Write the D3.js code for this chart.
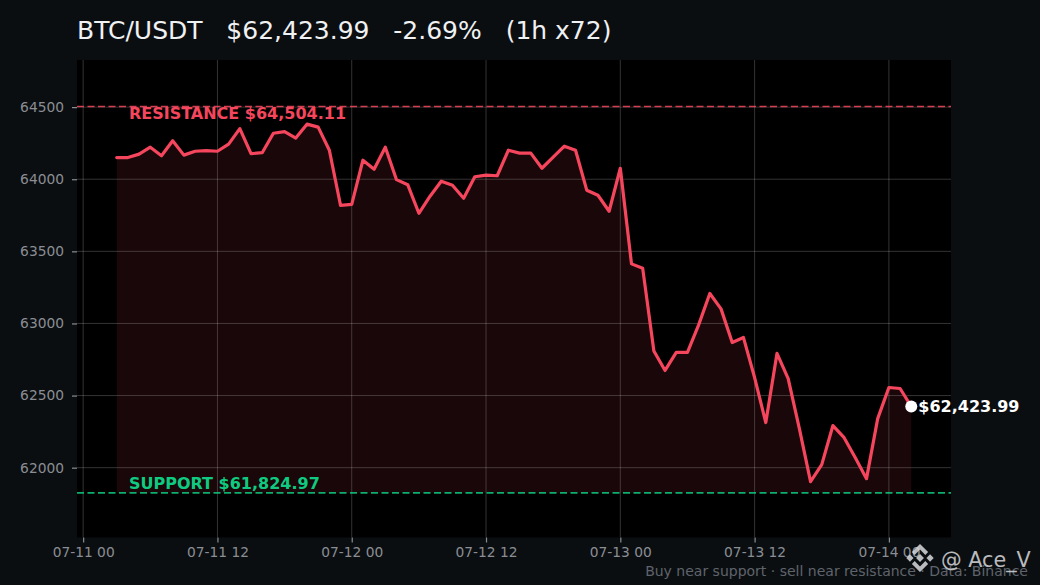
<!DOCTYPE html>
<html>
<head>
<meta charset="utf-8">
<script src="https://cdn.jsdelivr.net/npm/d3@7"></script>
<style>
  html, body { margin: 0; padding: 0; background: #0b0e11; }
  svg { display: block; }
  text { font-family: "DejaVu Sans", sans-serif; }
</style>
</head>
<body>
<svg id="chart" width="1040" height="585"></svg>
<script>
// ---------- data ----------
const symbol = "BTC/USDT";
const interval = "1h";
const startTime = "2024-07-11T03:00:00Z";   // first hourly candle close
const prices = [
  64150, 64150, 64174, 64222, 64163, 64267, 64167, 64194, 64198, 64194,
  64243, 64351, 64177, 64184, 64319, 64330, 64285, 64382, 64361, 64201,
  63819, 63826, 64132, 64069, 64222, 63997, 63962, 63764, 63882, 63986,
  63958, 63868, 64017, 64028, 64024, 64201, 64181, 64181, 64076, 64153,
  64229, 64201, 63924, 63889, 63778, 64076, 63413, 63382, 62809, 62674,
  62799, 62799, 62990, 63208, 63101, 62868, 62903, 62625, 62313, 62792,
  62618, 62271, 61903, 62021, 62292, 62208, 62069, 61924, 62340, 62556,
  62549, 62423.99
];
const resistance = 64504.11;
const support = 61824.97;
const yTicks = [62000, 62500, 63000, 63500, 64000, 64500];
const xTickTimes = ["2024-07-11T00:00:00Z", "2024-07-11T12:00:00Z", "2024-07-12T00:00:00Z",
                    "2024-07-12T12:00:00Z", "2024-07-13T00:00:00Z", "2024-07-13T12:00:00Z",
                    "2024-07-14T00:00:00Z"];
const xTickLabels = ["07-11 00", "07-11 12", "07-12 00", "07-12 12", "07-13 00", "07-13 12", "07-14 00"];
const footerText = "Buy near support · sell near resistance · Data: Binance";
const watermarkText = "@ Ace_V";

// ---------- setup ----------
const W = 1040, H = 585;
const plot = { left: 77, right: 951, top: 60, bottom: 537.5 };
const HOUR = 3600 * 1000;
const t0 = new Date(startTime).getTime();
const data = prices.map((p, i) => ({ t: new Date(t0 + i * HOUR), v: p }));

const last = prices[prices.length - 1];
const pct = (last / prices[0] - 1) * 100;
const fmtPrice = d3.format(",.2f");

const svg = d3.select("#chart");
svg.append("rect").attr("width", W).attr("height", H).attr("fill", "#0b0e11");

const span = data[data.length - 1].t - data[0].t;
const x = d3.scaleUtc()
  .domain([new Date(+data[0].t - span * 0.05), new Date(+data[data.length - 1].t + span * 0.05)])
  .range([plot.left, plot.right]);
const y = d3.scaleLinear()
  .domain([support * 0.995, resistance * 1.005])
  .range([plot.bottom, plot.top]);

// plot background
svg.append("rect")
  .attr("x", plot.left).attr("y", plot.top)
  .attr("width", plot.right - plot.left).attr("height", plot.bottom - plot.top)
  .attr("fill", "#000000");

svg.append("clipPath").attr("id", "clip")
  .append("rect")
  .attr("x", plot.left).attr("y", plot.top)
  .attr("width", plot.right - plot.left).attr("height", plot.bottom - plot.top);

const lineColor = "#f6465d";
const greenColor = "#0ecb81";
const tickColor = "#8a8d93";

// area fill (between price and support)
const area = d3.area()
  .x(d => x(d.t)).y0(y(support)).y1(d => y(d.v));
svg.append("path").datum(data)
  .attr("d", area)
  .attr("fill", lineColor).attr("fill-opacity", 0.1)
  .attr("clip-path", "url(#clip)");

// grid
const xTicks = xTickTimes.map(s => new Date(s));
const grid = svg.append("g").attr("clip-path", "url(#clip)");
grid.selectAll(".gx").data(xTicks).join("line")
  .attr("x1", d => x(d)).attr("x2", d => x(d))
  .attr("y1", plot.top).attr("y2", plot.bottom)
  .attr("stroke", "#ffffff").attr("stroke-opacity", 0.2).attr("stroke-width", 1);
grid.selectAll(".gy").data(yTicks).join("line")
  .attr("x1", plot.left).attr("x2", plot.right)
  .attr("y1", d => y(d)).attr("y2", d => y(d))
  .attr("stroke", "#ffffff").attr("stroke-opacity", 0.2).attr("stroke-width", 1);

// axes
const xAxis = d3.axisBottom(x)
  .tickValues(xTicks)
  .tickFormat((d, i) => xTickLabels[i])
  .tickSize(5).tickPadding(5);
const gx = svg.append("g").attr("transform", `translate(0,${plot.bottom})`).call(xAxis);
gx.select(".domain").remove();
gx.selectAll("line").attr("stroke", tickColor).attr("stroke-width", 1.2);
gx.selectAll("text").attr("fill", tickColor).attr("font-size", "13.8px")
  .attr("font-family", "DejaVu Sans");

const yAxis = d3.axisLeft(y)
  .tickValues(yTicks)
  .tickFormat(d3.format("d"))
  .tickSize(5).tickPadding(8);
const gy = svg.append("g").attr("transform", `translate(${plot.left},0)`).call(yAxis);
gy.select(".domain").remove();
gy.selectAll("line").attr("stroke", tickColor).attr("stroke-width", 1.2);
gy.selectAll("text").attr("fill", tickColor).attr("font-size", "13.8px")
  .attr("font-family", "DejaVu Sans");

// resistance / support lines
svg.append("line")
  .attr("x1", plot.left).attr("x2", plot.right)
  .attr("y1", y(resistance)).attr("y2", y(resistance))
  .attr("stroke", lineColor).attr("stroke-width", 1.6).attr("stroke-opacity", 0.85)
  .attr("stroke-dasharray", "7,3.5");
svg.append("line")
  .attr("x1", plot.left).attr("x2", plot.right)
  .attr("y1", y(support)).attr("y2", y(support))
  .attr("stroke", greenColor).attr("stroke-width", 1.6).attr("stroke-opacity", 0.85)
  .attr("stroke-dasharray", "7,3.5");

const labelX = x(new Date(t0 + 1 * HOUR)) + 1;
svg.append("text")
  .attr("x", labelX).attr("y", y(resistance) + 12.5)
  .attr("fill", lineColor).attr("font-size", "16px").attr("font-weight", "bold")
  .text("RESISTANCE $" + fmtPrice(resistance));
svg.append("text")
  .attr("x", labelX).attr("y", y(support) - 3.5)
  .attr("fill", greenColor).attr("font-size", "16px").attr("font-weight", "bold")
  .text("SUPPORT $" + fmtPrice(support));

// price line
const line = d3.line().x(d => x(d.t)).y(d => y(d.v));
svg.append("path").datum(data)
  .attr("d", line)
  .attr("fill", "none").attr("stroke", lineColor)
  .attr("stroke-width", 3.2).attr("stroke-linejoin", "round").attr("stroke-linecap", "round");

// last price marker
const lastD = data[data.length - 1];
svg.append("circle")
  .attr("cx", x(lastD.t)).attr("cy", y(lastD.v)).attr("r", 6)
  .attr("fill", "#ffffff");
svg.append("text")
  .attr("x", x(lastD.t) + 7).attr("y", y(lastD.v) + 5.5)
  .attr("fill", "#ffffff").attr("font-size", "16px").attr("font-weight", "bold")
  .text("$" + fmtPrice(lastD.v));

// title
svg.append("text")
  .attr("x", 77).attr("y", 39)
  .attr("fill", "#f0f1f3").attr("font-size", "25px")
  .style("white-space", "pre")
  .text(`${symbol}   $${fmtPrice(last)}   ${pct.toFixed(2)}%   (${interval} x${prices.length})`);

// footer
svg.append("text")
  .attr("x", 1028).attr("y", 575.5)
  .attr("text-anchor", "end")
  .attr("fill", "#5f646c").attr("font-size", "14px")
  .text(footerText);

// watermark
const wm = svg.append("g").attr("opacity", 0.85);
const logo = wm.append("g").attr("transform", "translate(920,558) scale(28)").attr("fill", "#d8dadd");
const polys = [
  [[0,-0.14],[0.14,0],[0,0.14],[-0.14,0]],
  [[-0.36,-0.13],[-0.23,0],[-0.36,0.13],[-0.49,0]],
  [[0.36,-0.13],[0.49,0],[0.36,0.13],[0.23,0]],
  [[0,-0.5],[0.29,-0.21],[0.19,-0.11],[0,-0.30],[-0.19,-0.11],[-0.29,-0.21]],
  [[0,0.5],[0.29,0.21],[0.19,0.11],[0,0.30],[-0.19,0.11],[-0.29,0.21]]
];
logo.selectAll("polygon").data(polys).join("polygon")
  .attr("points", d => d.map(p => p.join(",")).join(" "));
wm.append("text")
  .attr("x", 941).attr("y", 567)
  .attr("fill", "#d8dadd").attr("font-size", "20.7px")
  .style("white-space", "pre")
  .text(watermarkText);
</script>
</body>
</html>
